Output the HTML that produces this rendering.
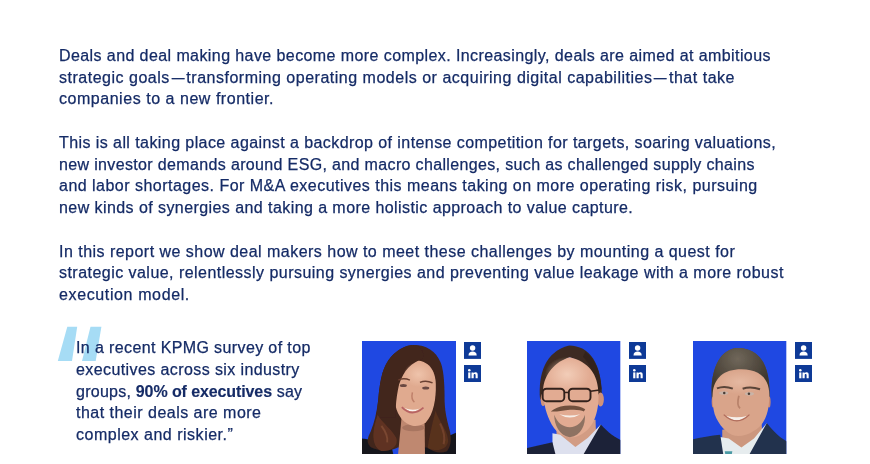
<!DOCTYPE html>
<html><head><meta charset="utf-8">
<style>
html,body{margin:0;padding:0;background:#fff;width:870px;height:464px;overflow:hidden;position:relative}
.l{position:absolute;white-space:nowrap;will-change:transform;font-family:"Liberation Sans",sans-serif;font-size:16px;line-height:20px;color:#152b66;-webkit-text-stroke:0.25px #152b66}
.d{display:inline-block;transform:scaleX(0.8)}
.l b{font-weight:bold;-webkit-text-stroke:0.15px #152b66}
.ph,.ic,.qm{position:absolute;display:block}
</style></head><body>
<svg class="qm" style="left:0;top:0" width="120" height="380">
<polygon points="67.3,326.7 77.2,326.7 72,361 57.8,361" fill="#a6dcf5"/>
<polygon points="90.5,326.7 101.4,326.7 95.7,361 82,361" fill="#a6dcf5"/>
</svg>
<div class="l" style="top:46px;left:59px;letter-spacing:0.413px">Deals and deal making have become more complex. Increasingly, deals are aimed at ambitious</div>
<div class="l" style="top:68px;left:59px;letter-spacing:0.51px">strategic goals<span class="d">—</span>transforming operating models or acquiring digital capabilities<span class="d">—</span>that take</div>
<div class="l" style="top:89px;left:59px;letter-spacing:0.533px">companies to a new frontier.</div>
<div class="l" style="top:133px;left:59px;letter-spacing:0.424px">This is all taking place against a backdrop of intense competition for targets, soaring valuations,</div>
<div class="l" style="top:155px;left:59px;letter-spacing:0.351px">new investor demands around ESG, and macro challenges, such as challenged supply chains</div>
<div class="l" style="top:176px;left:59px;letter-spacing:0.48px">and labor shortages. For M&amp;A executives this means taking on more operating risk, pursuing</div>
<div class="l" style="top:198px;left:59px;letter-spacing:0.429px">new kinds of synergies and taking a more holistic approach to value capture.</div>
<div class="l" style="top:242px;left:59px;letter-spacing:0.474px">In this report we show deal makers how to meet these challenges by mounting a quest for</div>
<div class="l" style="top:263px;left:59px;letter-spacing:0.463px">strategic value, relentlessly pursuing synergies and preventing value leakage with a more robust</div>
<div class="l" style="top:285px;left:59px;letter-spacing:0.623px">execution model.</div>
<div class="l" style="top:338px;left:76px;letter-spacing:0.383px">In a recent KPMG survey of top</div>
<div class="l" style="top:360px;left:76px;letter-spacing:0.404px">executives across six industry</div>
<div class="l" style="top:382px;left:76px;letter-spacing:0.25px">groups, <b style="letter-spacing:-0.1px">90% of executives</b> say</div>
<div class="l" style="top:403px;left:76px;letter-spacing:0.483px">that their deals are more</div>
<div class="l" style="top:425px;left:76px;letter-spacing:0.505px">complex and riskier.”</div>

<svg class="ph" style="left:360px;top:339px" width="98" height="117" viewBox="0 0 389 464">
<defs><clipPath id="c1"><rect x="7.94" y="7.94" width="373.2" height="448.6"/></clipPath>
<filter id="b1" x="-10%" y="-10%" width="120%" height="120%"><feGaussianBlur stdDeviation="3"/></filter><radialGradient id="hl1" cx="0.5" cy="0.5" r="0.5"><stop offset="0" stop-color="#f0c6ae" stop-opacity="0.9"/><stop offset="1" stop-color="#f0c6ae" stop-opacity="0"/></radialGradient></defs>
<g clip-path="url(#c1)"><rect x="0" y="0" width="389" height="464" fill="#1f48e2"/>
<g filter="url(#b1)">
<path d="M8 395 C50 400 95 410 125 425 L135 470 L8 470 Z" fill="#19181e"/>
<path d="M381 372 C340 390 290 410 250 425 L245 470 L381 470 Z" fill="#19181e"/>
<path d="M215 24 C262 24 302 47 321 95 C334 130 336 190 336 250 C338 300 348 330 356 362 C364 395 362 425 345 445 C320 455 290 450 270 430 L150 430 C120 445 80 445 45 430 C25 415 28 395 42 368 C58 330 66 290 72 245 C78 180 85 125 112 85 C140 48 175 24 215 24 Z" fill="#42251b"/>
<path d="M168 280 L256 280 L258 470 L150 470 Z" fill="#bf8870"/>
<ellipse cx="212" cy="352" rx="45" ry="14" fill="#a87460"/>
<path d="M218 84 C270 84 300 122 301 180 C302 240 292 296 262 330 C242 345 224 346 208 344 C175 338 150 305 141 265 C135 225 136 172 148 140 C162 104 188 84 218 84 Z" fill="#e0aa8f"/>
<path d="M215 24 C175 24 140 48 112 85 C85 125 78 180 72 245 C69 270 67 290 64 310 L140 310 L142 270 C144 240 148 210 155 180 C175 122 205 92 248 80 C262 60 240 24 215 24 Z" fill="#42251b"/>
<ellipse cx="232" cy="140" rx="60" ry="50" fill="url(#hl1)"/>
<path d="M70 300 C90 335 130 360 145 395 C152 425 125 448 85 444 C50 428 42 380 70 300 Z" fill="#5e3322"/>
<path d="M300 285 C315 330 352 368 350 408 C344 440 305 450 268 432 C275 390 285 340 300 285 Z" fill="#58301f"/>
<path d="M85 345 C100 365 112 385 108 410" stroke="#7a4630" stroke-width="8" fill="none"/>
<path d="M318 335 C332 362 340 385 332 418" stroke="#72422c" stroke-width="8" fill="none"/>
<ellipse cx="172" cy="184" rx="14" ry="6" fill="#6a4a42"/>
<ellipse cx="261" cy="194" rx="14" ry="6" fill="#6a4a42"/>
<path d="M152 163 Q174 153 198 163" stroke="#6a4030" stroke-width="6" fill="none"/>
<path d="M238 172 Q262 162 288 174" stroke="#6a4030" stroke-width="6" fill="none"/>
<path d="M208 212 Q202 240 216 250" stroke="#bf806a" stroke-width="6" fill="none"/>
<path d="M176 274 Q208 300 238 276 Q208 287 176 274 Z" fill="#fbf4f0"/>
<path d="M166 270 Q206 312 252 272" stroke="#b86464" stroke-width="7" fill="none"/>
</g></g></svg>

<svg class="ph" style="left:525px;top:339px" width="98" height="117" viewBox="0 0 389 464">
<defs><clipPath id="c2"><rect x="7.94" y="7.94" width="370.4" height="448.6"/></clipPath>
<filter id="b2" x="-10%" y="-10%" width="120%" height="120%"><feGaussianBlur stdDeviation="3"/></filter><radialGradient id="hl2" cx="0.5" cy="0.5" r="0.5"><stop offset="0" stop-color="#f2cdb8" stop-opacity="1"/><stop offset="1" stop-color="#f2cdb8" stop-opacity="0"/></radialGradient></defs>
<g clip-path="url(#c2)"><rect x="0" y="0" width="389" height="464" fill="#1f48e2"/>
<g filter="url(#b2)">
<path d="M60 240 C52 140 80 50 175 26 C255 28 308 90 306 250 L285 250 C282 150 250 95 178 72 C125 90 95 150 92 240 Z" fill="#3c2a20"/>
<path d="M240 50 C280 80 300 130 304 200 L280 200 C275 140 260 100 230 70 Z" fill="#33241c"/>
<ellipse cx="300" cy="240" rx="13" ry="28" fill="#cf927a"/>
<ellipse cx="72" cy="240" rx="10" ry="26" fill="#cf927a"/>
<path d="M125 330 L280 320 L285 470 L125 470 Z" fill="#d29c84"/>
<path d="M178 72 C250 90 292 135 292 225 C292 310 262 370 200 389 C160 395 120 375 98 323 C80 285 72 240 72 200 C75 140 120 88 178 72 Z" fill="#e2ab92"/>
<ellipse cx="168" cy="140" rx="90" ry="70" fill="url(#hl2)"/>
<path d="M118 283 C145 264 212 264 236 283 C225 277 210 274 178 276 C150 278 130 283 118 283 Z" stroke="#70503e" stroke-width="10" fill="#70503e"/>
<path d="M116 300 C116 340 135 382 178 390 C225 382 240 340 238 300 C228 330 205 348 178 350 C150 348 128 332 116 300 Z" fill="#8e7262"/>
<path d="M136 298 Q178 324 220 298 Q178 308 136 298 Z" fill="#f6eee8"/>
<rect x="70" y="197" width="86" height="50" rx="15" fill="none" stroke="#33201a" stroke-width="7.5"/>
<rect x="174" y="197" width="86" height="50" rx="15" fill="none" stroke="#33201a" stroke-width="7.5"/>
<path d="M156 212 L174 212" stroke="#33201a" stroke-width="6"/>
<path d="M260 207 L296 202" stroke="#33201a" stroke-width="6"/>
<path d="M109 374 L140 380 L200 428 L250 392 L301 339 L308 374 L225 470 L109 470 Z" fill="#dde0ee"/>
<path d="M0 434 L109 410 L124 470 L0 470 Z" fill="#1f2338"/>
<path d="M301 339 C330 370 360 395 400 409 L400 470 L225 470 Z" fill="#1f2338"/>
</g></g></svg>

<svg class="ph" style="left:691px;top:339px" width="98" height="117" viewBox="0 0 389 464">
<defs><clipPath id="c3"><rect x="7.94" y="7.94" width="370.4" height="448.6"/></clipPath>
<filter id="b3" x="-10%" y="-10%" width="120%" height="120%"><feGaussianBlur stdDeviation="3"/></filter><radialGradient id="hr3" cx="0.45" cy="0.2" r="0.6"><stop offset="0" stop-color="#70675a"/><stop offset="1" stop-color="#3e372e"/></radialGradient><radialGradient id="hl3" cx="0.5" cy="0.5" r="0.5"><stop offset="0" stop-color="#e6bba4" stop-opacity="0.9"/><stop offset="1" stop-color="#e6bba4" stop-opacity="0"/></radialGradient></defs>
<g clip-path="url(#c3)"><rect x="0" y="0" width="389" height="464" fill="#1f48e2"/>
<g filter="url(#b3)">
<path d="M84 250 C72 130 110 40 185 36 C270 36 320 100 311 250 L290 250 C290 170 270 130 200 122 C130 125 100 170 96 250 Z" fill="#554c40"/>
<path d="M84 250 C72 130 110 40 185 36 C270 36 320 100 311 250 L290 250 C290 170 270 130 200 122 C130 125 100 170 96 250 Z" fill="url(#hr3)"/>
<ellipse cx="88" cy="250" rx="6" ry="22" fill="#c98a72"/>
<ellipse cx="310" cy="250" rx="6" ry="22" fill="#c98a72"/>
<path d="M124 360 L280 330 L290 470 L124 470 Z" fill="#cc977e"/>
<path d="M200 120 C275 120 312 160 311 225 C310 300 290 340 250 364 C225 382 200 386 175 384 C140 375 110 340 94 298 C86 270 84 240 86 215 C92 155 130 120 200 120 Z" fill="#d9a48a"/>
<ellipse cx="195" cy="170" rx="100" ry="50" fill="url(#hl3)"/>
<path d="M103 196 Q132 184 166 197" stroke="#5a4438" stroke-width="8" fill="none"/>
<path d="M205 197 Q236 186 274 199" stroke="#5a4438" stroke-width="8" fill="none"/>
<ellipse cx="130" cy="214" rx="18" ry="7" fill="#c9b4a8"/><circle cx="132" cy="214" r="5" fill="#4a3c36"/>
<ellipse cx="232" cy="217" rx="18" ry="7" fill="#c9b4a8"/><circle cx="230" cy="217" r="5" fill="#4a3c36"/>
<path d="M190 225 Q180 265 195 275" stroke="#b8826a" stroke-width="7" fill="none"/>
<path d="M140 305 Q182 338 222 305 Q182 316 140 305 Z" fill="#f6efea"/>
<path d="M130 300 Q182 350 232 300" stroke="#b06c5c" stroke-width="5" fill="none"/>
<path d="M116 389 L150 395 L200 430 L250 395 L301 333 L306 374 L225 470 L116 470 Z" fill="#e6ecee"/>
<path d="M134 445 L164 445 L160 470 L138 470 Z" fill="#4a9aa4"/>
<path d="M0 400 C40 390 80 384 116 380 L130 470 L0 470 Z" fill="#22304e"/>
<path d="M301 333 C330 370 360 400 400 414 L400 470 L225 470 Z" fill="#22304e"/>
</g></g></svg>

<svg class="ic" style="left:464px;top:342px" width="17" height="40" viewBox="0 0 17 40">
<rect x="0" y="-0.3" width="17.4" height="17.2" fill="#0e3a97"/>
<circle cx="8.6" cy="6.0" r="2.7" fill="#fff"/>
<path d="M4.5 13.4 C4.5 10.4 6.3 9.4 8.6 9.4 C10.9 9.4 12.7 10.4 12.7 13.4 Z" fill="#fff"/>
<rect x="0" y="23" width="17.4" height="17.2" fill="#0e3a97"/>
<rect x="4.2" y="30.4" width="2.2" height="5.9" fill="#fff"/>
<circle cx="5.3" cy="28.2" r="1.3" fill="#fff"/>
<path d="M7.5 36.3 V30.4 H9.6 V31.3 C10.1 30.5 10.9 30.2 11.7 30.2 C13 30.2 13.7 31 13.7 32.7 V36.3 H11.6 V33.2 C11.6 32.4 11.3 32.0 10.8 32.0 C10.1 32.0 9.7 32.5 9.7 33.3 V36.3 Z" fill="#fff"/>
</svg>
<svg class="ic" style="left:628.5px;top:342px" width="17" height="40" viewBox="0 0 17 40">
<rect x="0" y="-0.3" width="17.4" height="17.2" fill="#0e3a97"/>
<circle cx="8.6" cy="6.0" r="2.7" fill="#fff"/>
<path d="M4.5 13.4 C4.5 10.4 6.3 9.4 8.6 9.4 C10.9 9.4 12.7 10.4 12.7 13.4 Z" fill="#fff"/>
<rect x="0" y="23" width="17.4" height="17.2" fill="#0e3a97"/>
<rect x="4.2" y="30.4" width="2.2" height="5.9" fill="#fff"/>
<circle cx="5.3" cy="28.2" r="1.3" fill="#fff"/>
<path d="M7.5 36.3 V30.4 H9.6 V31.3 C10.1 30.5 10.9 30.2 11.7 30.2 C13 30.2 13.7 31 13.7 32.7 V36.3 H11.6 V33.2 C11.6 32.4 11.3 32.0 10.8 32.0 C10.1 32.0 9.7 32.5 9.7 33.3 V36.3 Z" fill="#fff"/>
</svg>
<svg class="ic" style="left:794.5px;top:342px" width="17" height="40" viewBox="0 0 17 40">
<rect x="0" y="-0.3" width="17.4" height="17.2" fill="#0e3a97"/>
<circle cx="8.6" cy="6.0" r="2.7" fill="#fff"/>
<path d="M4.5 13.4 C4.5 10.4 6.3 9.4 8.6 9.4 C10.9 9.4 12.7 10.4 12.7 13.4 Z" fill="#fff"/>
<rect x="0" y="23" width="17.4" height="17.2" fill="#0e3a97"/>
<rect x="4.2" y="30.4" width="2.2" height="5.9" fill="#fff"/>
<circle cx="5.3" cy="28.2" r="1.3" fill="#fff"/>
<path d="M7.5 36.3 V30.4 H9.6 V31.3 C10.1 30.5 10.9 30.2 11.7 30.2 C13 30.2 13.7 31 13.7 32.7 V36.3 H11.6 V33.2 C11.6 32.4 11.3 32.0 10.8 32.0 C10.1 32.0 9.7 32.5 9.7 33.3 V36.3 Z" fill="#fff"/>
</svg>

</body></html>
